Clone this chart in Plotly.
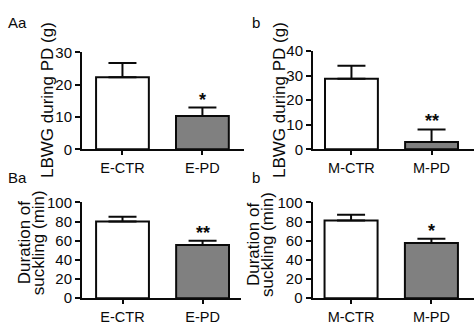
import plotly.graph_objects as go

# ---- data ----
cats_E = ["E-CTR", "E-PD"]
cats_M = ["M-CTR", "M-PD"]

lbwg_E = [22.3, 10.3]
lbwg_E_err = [4.4, 2.6]
lbwg_M = [28.7, 3.0]
lbwg_M_err = [5.3, 5.1]

suck_E = [80, 55.5]
suck_E_err = [5, 4.5]
suck_M = [81, 57.5]
suck_M_err = [6, 4.5]

sig_lbwg_E = ["", "*"]
sig_lbwg_M = ["", "**"]
sig_suck_E = ["", "**"]
sig_suck_M = ["", "*"]

panel_labels = ["Aa", "b", "Ba", "b"]
title_lbwg = ["LBWG during PD (g)"]
title_suck = ["Duration of", "suckling (min)"]

FONT = "Liberation Sans, Arial, sans-serif"
INK = "#0a0a0a"
W, H = 474, 327
bar_colors = ["#ffffff", "#808080"]

fig = go.Figure()

def px_x(p):
    return p / W

def px_y(p):
    return 1 - p / H

panels = [
    # (cats, vals, errs, sig, axis id, x domain px, y domain px, yrange, dtick, title lines, x range,
    #  title line x positions px, title centre y px)
    (cats_E, lbwg_E, lbwg_E_err, sig_lbwg_E, "", (82, 244), (148, 45.7), [0, 30], 10,
     title_lbwg, (-0.506, 1.52), [47], 96),
    (cats_M, lbwg_M, lbwg_M_err, sig_lbwg_M, "2", (313, 474), (148, 44.3), [0, 40], 10,
     title_lbwg, (-0.48, 1.53), [279], 96),
    (cats_E, suck_E, suck_E_err, sig_suck_E, "3", (82, 241), (305, 204), [0, 100], 20,
     title_suck, (-0.506, 1.48), [24, 38], 247),
    (cats_M, suck_M, suck_M_err, sig_suck_M, "4", (312.5, 474), (305, 204), [0, 100], 20,
     title_suck, (-0.48, 1.53), [253, 267], 249),
]

layout_axes = {}
annotations = []
for i, (cats, vals, errs, sig, ax, xd, yd, yr, dt, tlines, xr, tx, ty) in enumerate(panels):
    fig.add_trace(go.Bar(
        x=cats, y=vals,
        marker=dict(color=bar_colors, line=dict(color=INK, width=2)),
        width=0.66,
        error_y=dict(type="data", symmetric=False, array=errs,
                     arrayminus=[0] * len(errs), color=INK,
                     thickness=2, width=14),
        xaxis="x" + ax, yaxis="y" + ax,
        showlegend=False, hoverinfo="skip",
    ))
    for c, v, e, s in zip(cats, vals, errs, sig):
        if s:
            annotations.append(dict(
                x=c, y=v + e, xref="x" + ax, yref="y" + ax,
                text="<b>" + s + "</b>", showarrow=False, yanchor="bottom",
                yshift=-4, font=dict(family=FONT, size=18, color=INK)))
    for line, lx in zip(tlines, tx):
        annotations.append(dict(
            x=px_x(lx), y=px_y(ty), xref="paper", yref="paper", text=line,
            textangle=-90, showarrow=False, xanchor="center", yanchor="middle",
            font=dict(family=FONT, size=17, color=INK)))
    layout_axes["xaxis" + ax] = dict(
        domain=[px_x(xd[0]), px_x(xd[1])], anchor="y" + ax,
        range=list(xr), showline=True, linecolor=INK, linewidth=2,
        ticks="outside", ticklen=4, tickwidth=2, tickcolor=INK,
        tickfont=dict(family=FONT, size=14.5, color=INK),
        showgrid=False, zeroline=False, fixedrange=True,
    )
    layout_axes["yaxis" + ax] = dict(
        domain=[px_y(yd[0]), px_y(yd[1])], anchor="x" + ax,
        range=yr, dtick=dt, showline=True, linecolor=INK, linewidth=2,
        ticks="outside", ticklen=5, tickwidth=2, tickcolor=INK,
        tickfont=dict(family=FONT, size=15, color=INK),
        showgrid=False, zeroline=False,
    )

label_pos = [(6, 14), (250, 14), (6, 178), (250, 178)]
for lab, (lx, ly) in zip(panel_labels, label_pos):
    annotations.append(dict(
        x=px_x(lx), y=px_y(ly), xref="paper", yref="paper", text=lab,
        showarrow=False, xanchor="left", yanchor="middle",
        font=dict(family=FONT, size=15, color=INK)))

fig.update_layout(
    width=W, height=H, margin=dict(l=0, r=0, t=0, b=0),
    paper_bgcolor="white", plot_bgcolor="white",
    bargap=0.3, annotations=annotations, **layout_axes,
)

fig.write_html("out.html")
